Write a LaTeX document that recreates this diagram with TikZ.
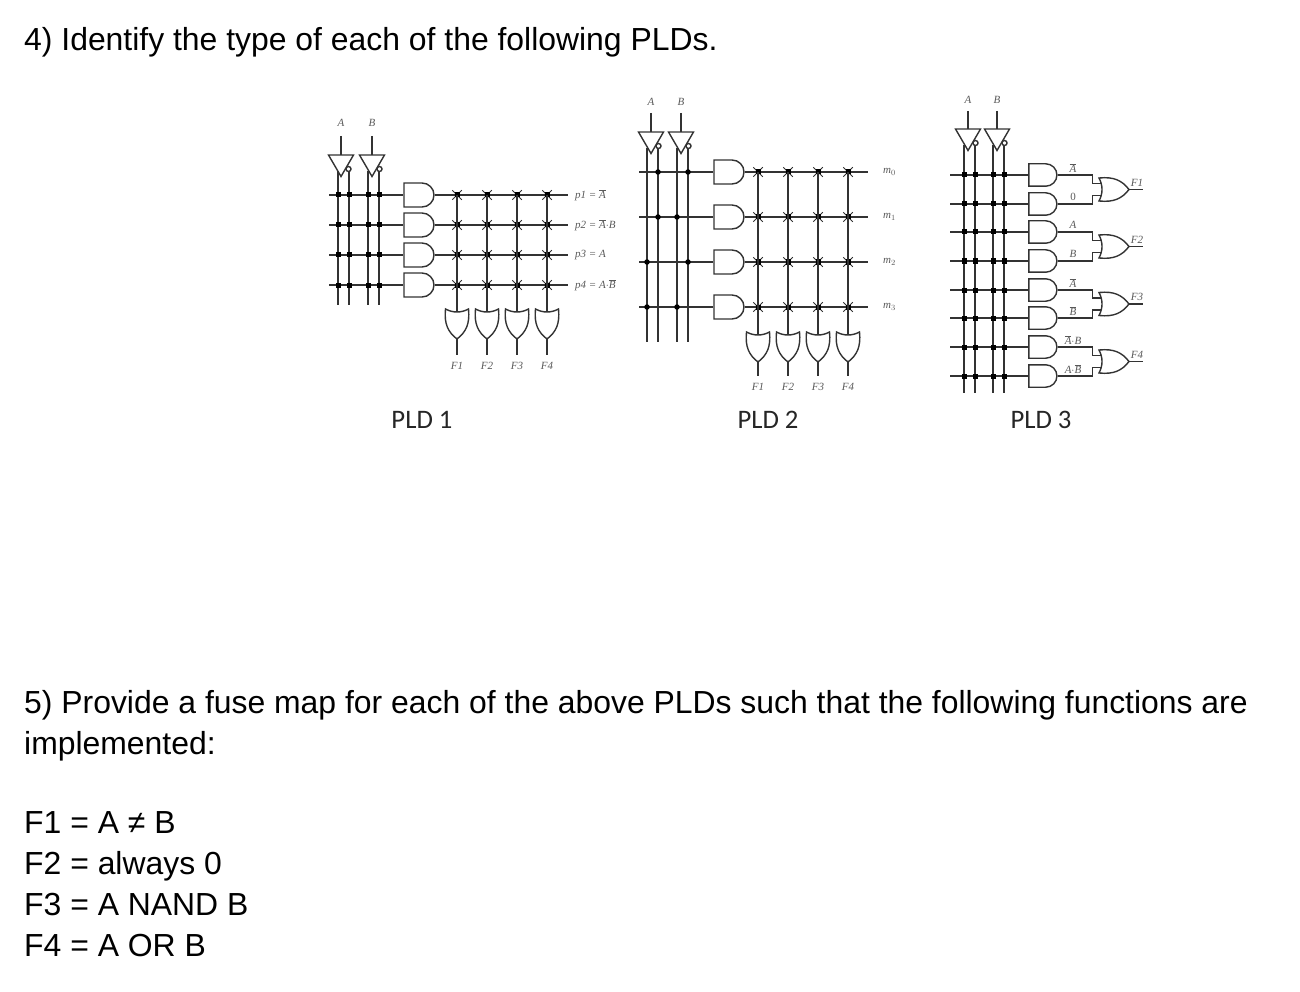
\documentclass[tikz,border=0pt]{standalone}
\usepackage{fontspec}
\setmainfont{Liberation Sans}
\newfontfamily\pldfont{Carlito}
\newfontfamily\labfont{Liberation Serif}
\usetikzlibrary{shapes.gates.logic.US,shapes.misc}
\tikzset{
	wire/.style={line width=1.4pt,black!80},
	andg/.style={and gate US,draw,line width=1.4pt,black!80,logic gate inputs=nn,inner sep=0pt,minimum width=30pt,minimum height=24pt},
	orshape/.pic={
		\draw[wire,line join=miter] (-11.5,0) .. controls (-4,-4) and (4,-4) .. (11.5,0)
			.. controls (13,-15) and (9,-23) .. (0,-30) .. controls (-9,-23) and (-13,-15) .. (-11.5,0) -- cycle;
		\coordinate (-in) at (0,-3);
		\coordinate (-out) at (0,-30);
		\coordinate (-i1) at (-6,-2.4);
		\coordinate (-i2) at (6,-2.4);
	},
	fuse/.style={fill=black,inner sep=0pt,minimum size=5pt},
	xfuse/.style={cross out,draw,line width=1pt,black!80,inner sep=0pt,minimum size=8.5pt},
	dotc/.style={circle,fill=black,inner sep=0pt,minimum size=5.5pt},
	lab/.style={black!65,inner sep=0pt,font=\labfont\itshape\fontsize{11}{12}\selectfont},
	para/.style={anchor=base west,inner sep=0pt,font=\fontsize{31.9}{36}\selectfont},
	pld/.style={inner sep=0pt,black!85,font=\pldfont\fontsize{26.7}{30}\selectfont}
}
% bar over a label letter
\newcommand{\lbar}[1]{$\overline{\mbox{#1}}$}
% inverter pair: name, centre x, y of input end, y of triangle top
\newcommand{\invpair}[4]{
	\coordinate (#1in) at (#2,#3);
	\coordinate (#1top) at (#2,#4);
	\draw[wire] (#1in) -- (#1top);
	\draw[wire,line join=miter] (#2-12.5,#4) -- (#2+12.5,#4) -- (#2,#4-21.5) -- cycle;
	\draw[wire,fill=white] (#2+7.5,#4-14) circle (2.5);
}
\begin{document}
\begin{tikzpicture}[x=1pt,y=1pt]
	\useasboundingbox (0,0) rectangle (1300,-992);
	\node[para] (q4) at (24,-51) {4) Identify the type of each of the following PLDs.};
	\node[para] (q5) at (24,-713) {5) Provide a fuse map for each of the above PLDs such that the following functions are};
	\node[para] (q5b) at (24,-754) {implemented:};
	\node[para] (fa) at (24,-833) {F1 = A ≠ B};
	\node[para] (fb) at (24,-874) {F2 = always 0};
	\node[para] (fc) at (24,-915) {F3 = A NAND B};
	\node[para] (fd) at (24,-956) {F4 = A OR B};
	\node[pld] (pa) at (422,-420) {PLD 1};
	\node[pld] (pb) at (768,-420) {PLD 2};
	\node[pld] (pc) at (1041,-420) {PLD 3};
	% PLD 1
	\node[lab] (la) at (341,-123) {A};
	\node[lab] (lb) at (372,-123) {B};
	\invpair{a}{341}{-136}{-155}
	\invpair{b}{372}{-136}{-155}
	\foreach \x in {338,349,368,379}\draw[wire] (\x,-171.5) -- (\x,-305);
	\foreach \n/\y/\t in {1/-195/{p1 = \lbar{A}},2/-225/{p2 = \lbar{A}$\cdot$B},3/-255/{p3 = A},4/-285/{p4 = A$\cdot$\lbar{B}}}{
		\coordinate (rs\n) at (329,\y);
		\coordinate (re\n) at (568,\y);
		\node[andg] (ga\n) at (418,\y) {};
		\draw[wire] (rs\n) -- (ga\n.west);
		\draw[wire] (ga\n.east) -- (re\n);
		\node[lab,anchor=west] (tp\n) at (575,\y) {\t};
		\foreach \x in {338,349,368,379}\node[fuse] (fu\n\x) at (\x,\y) {};
		\foreach \x in {457,487,517,547}{
			\node[xfuse] (xf\n\x) at (\x,\y) {};
			\node[fuse] (xs\n\x) at (\x,\y) {};
		}
	}
	\foreach \c/\x in {1/457,2/487,3/517,4/547}{
		\coordinate (ct\c) at (\x,-195);
		\coordinate (cb\c) at (\x,-355);
		\pic (oa\c) at (\x,-309) {orshape};
		\draw[wire] (ct\c) -- (oa\c-in);
		\draw[wire] (oa\c-out) -- (cb\c);
		\node[lab] (fl\c) at (\x,-366) {F\c};
	}
	% PLD 2
	\node[lab] (lc) at (651,-102) {A};
	\node[lab] (ld) at (681,-102) {B};
	\invpair{c}{651}{-113}{-132}
	\invpair{d}{681}{-113}{-132}
	\foreach \x in {647,658,677,688}\draw[wire] (\x,-148.5) -- (\x,-342);
	\foreach \n/\y/\u/\v in {0/-172/658/688,1/-217/658/677,2/-262/647/688,3/-307/647/677}{
		\coordinate (ss\n) at (639,\y);
		\coordinate (se\n) at (868,\y);
		\node[andg] (gb\n) at (728,\y) {};
		\draw[wire] (ss\n) -- (gb\n.west);
		\draw[wire] (gb\n.east) -- (se\n);
		\node[lab,anchor=west] (tm\n) at (883,\y) {m$_{\n}$};
		\node[dotc] (du\n) at (\u,\y) {};
		\node[dotc] (dv\n) at (\v,\y) {};
		\foreach \x in {758,788,818,848}{
			\node[xfuse] (xg\n\x) at (\x,\y) {};
			\node[fuse] (xt\n\x) at (\x,\y) {};
		}
	}
	\foreach \c/\x in {1/758,2/788,3/818,4/848}{
		\coordinate (dt\c) at (\x,-172);
		\coordinate (db\c) at (\x,-376);
		\pic (ob\c) at (\x,-332) {orshape};
		\draw[wire] (dt\c) -- (ob\c-in);
		\draw[wire] (ob\c-out) -- (db\c);
		\node[lab] (fm\c) at (\x,-387) {F\c};
	}
	% PLD 3
	\node[lab] (le) at (968,-100) {A};
	\node[lab] (lf) at (997,-100) {B};
	\invpair{e}{968}{-111}{-129}
	\invpair{f}{997}{-111}{-129}
	\foreach \x in {964,975,993,1004}\draw[wire] (\x,-145.5) -- (\x,-393);
	\foreach \n/\y/\t in {1/-175/{\lbar{A}},2/-204/{\upshape 0},3/-232/{A},4/-261/{B},5/-290/{\lbar{A}},6/-318/{\lbar{B}},7/-347/{\lbar{A}$\cdot$B},8/-376/{A$\cdot$\lbar{B}}}{
		\coordinate (ts\n) at (950,\y);
		\node[andg,minimum height=22pt,minimum width=28pt] (gc\n) at (1042,\y) {};
		\draw[wire] (ts\n) -- (gc\n.west);
		\node[lab] (tt\n) at (1073,\y+7) {\t};
		\foreach \x in {964,975,993,1004}\node[fuse] (fv\n\x) at (\x,\y) {};
	}
	\foreach \c/\y/\p/\r in {1/-189.5/1/2,2/-246.5/3/4,3/-304/5/6,4/-361.5/7/8}{
		\pic[rotate=90] (oc\c) at (1099,\y) {orshape};
		\coordinate (en\c) at (1143,\y);
		\draw[wire] (oc\c-out) -- (en\c);
		\draw[wire] (gc\p.east) -| ([xshift=-9pt]oc\c-i2) -- (oc\c-i2);
		\draw[wire] (gc\r.east) -| ([xshift=-9pt]oc\c-i1) -- (oc\c-i1);
		\node[lab] (fn\c) at (1137,\y+7) {F\c};
	}
\end{tikzpicture}
\end{document}
